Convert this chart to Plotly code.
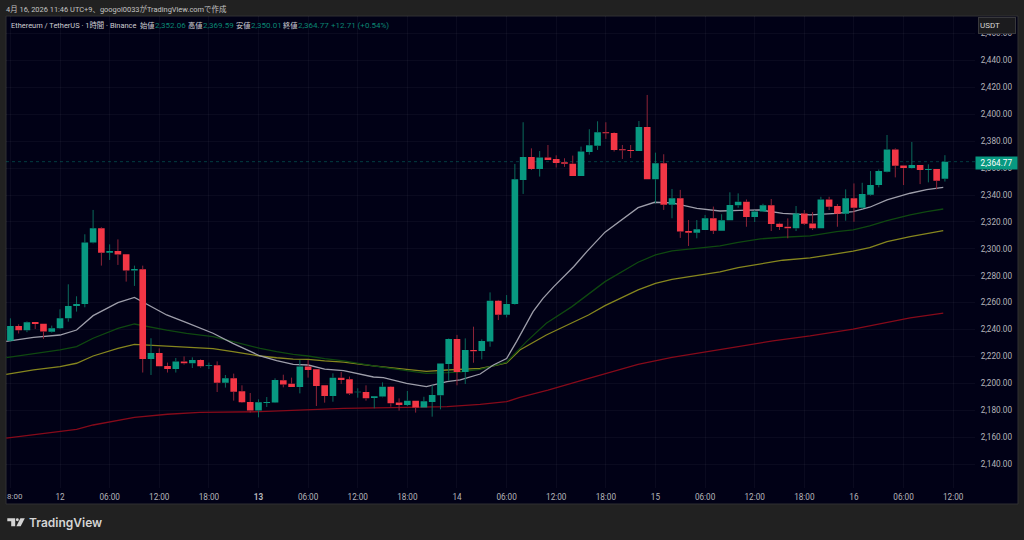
import pandas as pd
import plotly.graph_objects as go

# OHLC, hourly candles from 2026-04-11 18:00
start = "2026-04-11 18:00"
opens = [2231.7,2242.6,2239.4,2245.6,2244.3,2238.4,2240.9,2248.3,2257.5,2259.0,2304.6,2315.2,2297.1,2298.4,2295.9,2283.8,2284.8,2218.1,2222.5,2212.9,
         2210.6,2216.3,2214.9,2217.3,2213.0,2213.4,2200.5,2203.7,2194.0,2186.1,2179.7,2185.4,2185.8,2202.2,2199.7,2197.2,2212.4,2210.4,2198.5,2190.6,
         2204.2,2203.0,2193.3,2193.5,2189.1,2190.1,2197.5,2185.8,2183.9,2187.1,2182.1,2186.1,2191.1,2214.3,2233.0,2208.4,2224.8,2224.0,2231.0,2261.4,
         2251.0,2259.0,2351.2,2368.3,2359.4,2367.8,2366.8,2364.3,2363.3,2354.2,2372.0,2376.7,2386.6,2386.1,2374.0,2373.5,2372.7,2390.6,2351.7,2363.6,
         2332.8,2337.6,2313.3,2312.0,2314.0,2322.7,2313.5,2321.2,2332.3,2335.0,2323.6,2327.8,2332.3,2318.7,2316.4,2315.2,2326.3,2318.9,2315.2,2336.7,
         2331.8,2326.1,2337.5,2330.6,2340.2,2347.4,2357.3,2373.9,2362.0,2360.0,2362.3,2358.6,2359.3,2352.06]
closes = [2242.6,2239.4,2245.3,2244.1,2238.6,2240.9,2248.3,2257.5,2259.0,2304.6,2315.2,2297.1,2298.4,2295.7,2283.8,2285.0,2218.1,2222.5,2212.6,2210.6,
          2216.3,2214.9,2217.3,2212.6,2213.6,2200.5,2203.7,2193.8,2185.9,2179.7,2185.9,2186.1,2202.4,2199.2,2197.2,2212.4,2209.9,2198.0,2190.6,2204.2,
          2202.4,2192.5,2193.8,2188.8,2190.3,2197.5,2185.1,2183.9,2187.1,2182.1,2186.6,2191.3,2214.8,2233.0,2208.4,2224.8,2223.8,2231.4,2261.4,2251.0,
          2259.0,2351.7,2368.3,2359.4,2367.8,2366.1,2363.8,2363.3,2354.2,2372.3,2377.0,2386.6,2385.9,2373.5,2373.2,2372.7,2390.6,2351.7,2363.6,2332.8,
          2337.6,2312.8,2312.0,2314.5,2322.7,2313.5,2321.2,2332.6,2335.0,2323.6,2327.8,2332.3,2318.4,2316.2,2315.2,2326.3,2318.7,2315.2,2336.7,2331.3,
          2326.1,2337.5,2330.6,2340.7,2347.4,2357.8,2373.9,2361.8,2360.0,2362.3,2358.6,2359.3,2350.6,2364.77]
highs = [2248.3,2243.9,2246.0,2245.6,2244.3,2242.9,2255.0,2273.6,2264.7,2310.8,2328.9,2316.0,2303.3,2307.0,2295.9,2287.5,2287.5,2233.5,2226.0,2215.4,
         2218.8,2220.0,2219.3,2217.8,2215.4,2216.3,2206.2,2207.2,2198.5,2192.8,2188.1,2189.8,2203.7,2206.4,2204.2,2217.3,2217.3,2210.4,2198.5,2207.4,
         2208.4,2205.0,2196.3,2198.5,2190.3,2200.7,2198.0,2188.8,2194.3,2187.1,2190.0,2198.7,2214.8,2233.4,2236.0,2233.4,2242.1,2232.7,2267.6,2262.0,
         2265.6,2363.1,2394.1,2374.7,2372.7,2377.2,2369.5,2367.3,2369.3,2376.0,2388.9,2394.8,2394.1,2386.6,2377.2,2377.2,2395.0,2414.4,2371.5,2370.3,
         2344.5,2343.8,2321.4,2321.4,2325.2,2331.4,2325.7,2342.0,2341.2,2336.7,2328.8,2333.5,2337.0,2319.4,2322.6,2331.8,2328.8,2327.3,2338.7,2338.7,
         2333.3,2344.2,2348.6,2349.1,2357.8,2359.0,2384.6,2374.7,2362.0,2379.4,2362.3,2362.8,2359.3,2369.59]
lows = [2231.0,2237.0,2238.0,2240.4,2233.0,2237.7,2240.4,2245.8,2253.3,2256.5,2304.0,2287.5,2291.7,2288.0,2275.6,2272.4,2208.0,2206.2,2212.6,2208.0,
        2208.0,2213.9,2211.4,2211.6,2210.6,2193.5,2196.8,2187.1,2185.4,2178.2,2174.7,2182.4,2185.3,2197.0,2197.2,2192.5,2204.2,2183.1,2185.6,2186.3,
        2199.5,2191.3,2189.3,2187.1,2181.4,2189.6,2182.6,2179.7,2183.1,2178.2,2182.1,2175.2,2180.6,2202.0,2198.5,2199.5,2215.3,2217.8,2227.2,2247.0,
        2249.0,2258.5,2340.8,2358.6,2353.7,2366.1,2360.4,2360.9,2354.2,2354.2,2370.0,2373.5,2381.7,2372.3,2366.8,2367.5,2372.7,2351.7,2333.8,2328.9,
        2322.7,2308.1,2302.1,2307.8,2314.0,2311.0,2313.5,2321.2,2330.5,2316.4,2319.9,2327.3,2313.2,2314.0,2307.8,2313.2,2317.7,2314.0,2315.2,2328.8,
        2316.4,2320.9,2320.1,2329.6,2339.5,2345.7,2356.8,2353.1,2347.4,2359.6,2348.1,2349.4,2344.2,2350.01]

# Moving averages, read at hours counted from the first candle
white_h = [-0.5,2.8,6,8,10,13,15,18.9,21.3,24.5,26.9,30.2,32.2,34.2,36,38,40.3,43.9,45.1,47.9,50.3,52.8,54.4,56.8,58.4,60,61.2,62,63.2,64.4,65.7,68.1,69.7,71.9,75.9,77.9,80,83,85.8,88.2,90.6,93.4,96.7,99.9,101.9,103.9,106,108.8,110.8,112.8]
white_v = [2231.2,2234.2,2235.9,2239.6,2250.3,2260,2263.9,2250.8,2245.1,2237.2,2229.7,2220.3,2216.8,2214.1,2213.6,2210.6,2209.4,2204.7,2204.2,2200,2197.5,2201.2,2202.5,2206.9,2213.6,2218.4,2231,2239.6,2253.3,2263.2,2271.9,2286.7,2297.9,2312.4,2330.6,2334.6,2334.1,2330.1,2328.1,2328.5,2328.9,2326.4,2325.2,2326.4,2327.7,2330.9,2336.3,2341.3,2344,2345.7]
green_h = [-0.5,2.8,6,8,10,13,15,18.9,21.3,24.5,26.9,30.2,32.2,34.2,36,38,40.3,43.9,47.9,50.3,52.8,54.4,56.8,58.4,60,62.4,64.8,67.9,71.9,75.9,78,80,83,85.8,88,90.7,93.4,96.7,99.9,101.9,103.9,106,108.8,110.8,112.8]
green_v = [2219.1,2221.8,2224.8,2227.3,2233.5,2240.9,2244.1,2239.6,2237.2,2234.7,2231,2226,2223.5,2221.5,2220.3,2218.3,2216.6,2212.9,2209.4,2207.4,2207.9,2208.6,2210.4,2212.9,2215.8,2231,2244.6,2257,2275.6,2290,2295.4,2298.4,2300.4,2302.1,2304.8,2307.4,2308.6,2309.6,2312.8,2314,2317,2321,2325.2,2327.7,2329.6]
yellow_h = [-0.5,2.8,6,8,10,13,15,18.9,21.3,24.5,26.9,30.2,32.2,34.2,36,38,40.3,43.9,47.9,50.3,52.8,54.4,56.8,58.4,60,61.6,64.8,69.9,71.9,75.9,78,80,83,85.8,88,90.7,93.4,96.7,99.9,101.9,103.9,106,108.8,110.8,112.8]
yellow_v = [2206.7,2209.9,2212.4,2214.9,2220.3,2226,2229,2227.5,2227,2225.8,2223.5,2220.3,2219,2218,2217.8,2216.6,2215.8,2212.9,2210.4,2208.9,2209.9,2210.4,2211.1,2212.9,2215.1,2224.8,2235.9,2250.8,2257.7,2269.4,2274.3,2277.3,2280,2282.8,2286,2289,2291.5,2293.2,2296.2,2298.2,2300.9,2305.4,2309.1,2311.5,2313.5]
red_h = [-0.5,6,8,10,13,15,19,22.9,30.2,34.2,40.3,47.9,52.8,56.8,60,61.6,65,69.3,71.9,75.9,80,85.8,88,92.2,96.7,101.9,106,108.8,112.8]
red_v = [2159.3,2164.5,2165.8,2169,2172.7,2174.7,2177,2178.4,2178.9,2180.1,2181.4,2182.1,2182.6,2184.4,2186.3,2189.6,2195,2202.5,2206.9,2214.1,2219.3,2224.8,2227.3,2231.5,2235.2,2240.2,2245.1,2248.6,2252.1]

price_ticks = [2140,2160,2180,2200,2220,2240,2260,2280,2300,2320,2340,2360,2380,2400,2420,2440,2460]
time_tick_hours = [0,6,12,18,24,30,36,42,48,54,60,66,72,78,84,90,96,102,108,114]
time_tick_text = ["","12","06:00","12:00","18:00","<b>13</b>","06:00","12:00","18:00","14","06:00","12:00","18:00","15","06:00","12:00","18:00","16","06:00","12:00"]

UP, DOWN = "#089981", "#F23645"
WICK_UP, WICK_DOWN = "#0b6b5c", "#8e2438"
PAPER, PANEL = "#212121", "#010116"
TXT = "#b4b4ba"
FONT = "Roboto, Noto Sans CJK JP, sans-serif"

base = pd.Timestamp(start)
def at(h):
    return base + pd.Timedelta(hours=h)
times = [at(i) for i in range(len(opens))]

W, H = 1024, 540
L, R, T, B = 6, 975, 16, 488
def fx(x): return (x - L) / (R - L)
def fy(y): return 1 - (y - T) / (B - T)

fig = go.Figure()

for name, hs, vs, col, w in [
    ("red", red_h, red_v, "#860a1a", 1.3),
    ("yellow", yellow_h, yellow_v, "#86861e", 1.3),
    ("green", green_h, green_v, "#0f4810", 1.3),
    ("white", white_h, white_v, "#9e9eaa", 1.3),
]:
    fig.add_trace(go.Scatter(x=[at(h) for h in hs], y=vs, mode="lines", name=name,
                             line=dict(color=col, width=w), hoverinfo="skip"))

def wicks(is_up):
    xs, ys = [], []
    for t, o, h, l, c in zip(times, opens, highs, lows, closes):
        if (c >= o) != is_up:
            continue
        xs += [t, t, None, t, t, None]
        ys += [h, max(o, c), None, min(o, c), l, None]
    return xs, ys

for is_up, col in [(True, WICK_UP), (False, WICK_DOWN)]:
    xs, ys = wicks(is_up)
    fig.add_trace(go.Scatter(x=xs, y=ys, mode="lines", yaxis="y2",
                             line=dict(color=col, width=1), hoverinfo="skip"))

fig.add_trace(go.Candlestick(
    x=times, open=opens, high=highs, low=lows, close=closes, yaxis="y2",
    increasing=dict(line=dict(color=UP, width=0), fillcolor=UP),
    decreasing=dict(line=dict(color=DOWN, width=0), fillcolor=DOWN),
    whiskerwidth=0))

yrange = [2440 - (B - 60.5) / 1.345, 2440 - (T - 60.5) / 1.345]
xrange_ = [at((L - 10.4) / 8.27), at((R - 10.4) / 8.27)]
grid = "rgba(255,255,255,0.04)"

def note(text, x, y, size=8.0, color=TXT, **kw):
    return dict(text=text, xref="paper", yref="paper", x=fx(x - 2), y=fy(y), showarrow=False,
                xanchor="left", yanchor="middle",
                font=dict(family=kw.pop("family", FONT), size=size, color=color, **kw))

G = "#0b8572"
LBL = "#cfcfd4"
anns = [
    note("4月 16, 2026 11:46 UTC+9、googol0033がTradingView.comで作成", 6, 9.3, 7.45, "#c4c4c4"),
    note("Ethereum / TetherUS · 1時間 · Binance", 11, 25.3, 7.45, LBL),
    note("始値", 140, 25.3, 7.2, LBL), note("2,352.06", 155, 25.3, 8, G),
    note("高値", 188, 25.3, 7.2, LBL), note("2,369.59", 203, 25.3, 8, G),
    note("安値", 236, 25.3, 7.2, LBL), note("2,350.01", 251, 25.3, 8, G),
    note("終値", 283, 25.3, 7.2, LBL), note("2,364.77", 298, 25.3, 8, G),
    note("+12.71 (+0.54%)", 331, 25.3, 8, G),
    note("8:00", 7, 496.5, 8.0),
    note("TradingView", 29, 522, 12, "#d4d4d4", family="Inter, sans-serif", weight=600),
    dict(text="2,364.77", xref="paper", yref="y", x=fx(996), y=closes[-1], yshift=-1, showarrow=False,
         xanchor="center", yanchor="middle", width=38, height=9, bgcolor=UP, borderpad=1.5,
         font=dict(family=FONT, size=8.2, color="#ffffff")),
    dict(text="USDT", xref="paper", yref="paper", x=fx(997), y=fy(26), showarrow=False,
         xanchor="center", yanchor="middle", width=34, height=13, bgcolor="#1b1b1e", bordercolor="#38383c",
         borderwidth=1, borderpad=1, align="left", font=dict(family=FONT, size=8, color="#d6d6d6")),
]

def poly(points):
    return "M" + " L".join(f"{fx(x):.5f},{fy(y):.5f}" for x, y in points) + " Z"

shapes = [
    dict(type="rect", xref="paper", yref="paper", x0=fx(6), x1=fx(1018), y0=fy(504), y1=fy(16),
         fillcolor=PANEL, line=dict(color="#303033", width=1), layer="below"),
    dict(type="line", xref="paper", yref="y", x0=0, x1=1, y0=closes[-1], y1=closes[-1],
         line=dict(color="rgba(8,153,129,0.4)", width=1, dash="dot"), layer="below"),
    # TradingView logo
    dict(type="path", xref="paper", yref="paper", layer="above", line=dict(width=0), fillcolor="#d4d4d4",
         path=poly([(7.3, 518.3), (15.2, 518.3), (15.2, 526.3), (11.2, 526.3), (11.2, 521.2), (7.3, 521.2)])),
    dict(type="circle", xref="paper", yref="paper", layer="above", line=dict(width=0), fillcolor="#d4d4d4",
         x0=fx(15.9), x1=fx(18.8), y0=fy(521.2), y1=fy(518.3)),
    dict(type="path", xref="paper", yref="paper", layer="above", line=dict(width=0), fillcolor="#d4d4d4",
         path=poly([(20.4, 518.3), (24.8, 518.3), (20.7, 526.3), (16.4, 526.3)])),
]

fig.update_layout(
    width=W, height=H, autosize=False, showlegend=False,
    paper_bgcolor=PAPER, plot_bgcolor=PANEL, boxgap=0.2, boxgroupgap=0,
    margin=dict(l=L, r=W - R, t=T, b=H - B, pad=0),
    xaxis=dict(type="date", range=xrange_, rangeslider=dict(visible=False), showline=False, zeroline=False,
               tickmode="array", tickvals=[at(h) for h in time_tick_hours], ticktext=time_tick_text,
               showgrid=True, gridcolor=grid, gridwidth=1, ticks="outside", ticklen=1, tickcolor="rgba(0,0,0,0)",
               tickfont=dict(family=FONT, size=8.2, color=TXT), tickangle=0),
    yaxis=dict(range=yrange, side="right", showline=False, zeroline=False, tickmode="array",
               tickvals=price_ticks, tickformat=",.2f", showgrid=True, gridcolor=grid, gridwidth=1,
               ticks="outside", ticklen=3, tickcolor="rgba(0,0,0,0)",
               tickfont=dict(family=FONT, size=8.2, color=TXT)),
    yaxis2=dict(range=yrange, overlaying="y", side="right", visible=False, showgrid=False, zeroline=False),
    annotations=anns, shapes=shapes,
)

fig.write_html("out.html", config=dict(displayModeBar=False),
               post_script=f"document.body.style.margin='0';document.body.style.background='{PAPER}';")
